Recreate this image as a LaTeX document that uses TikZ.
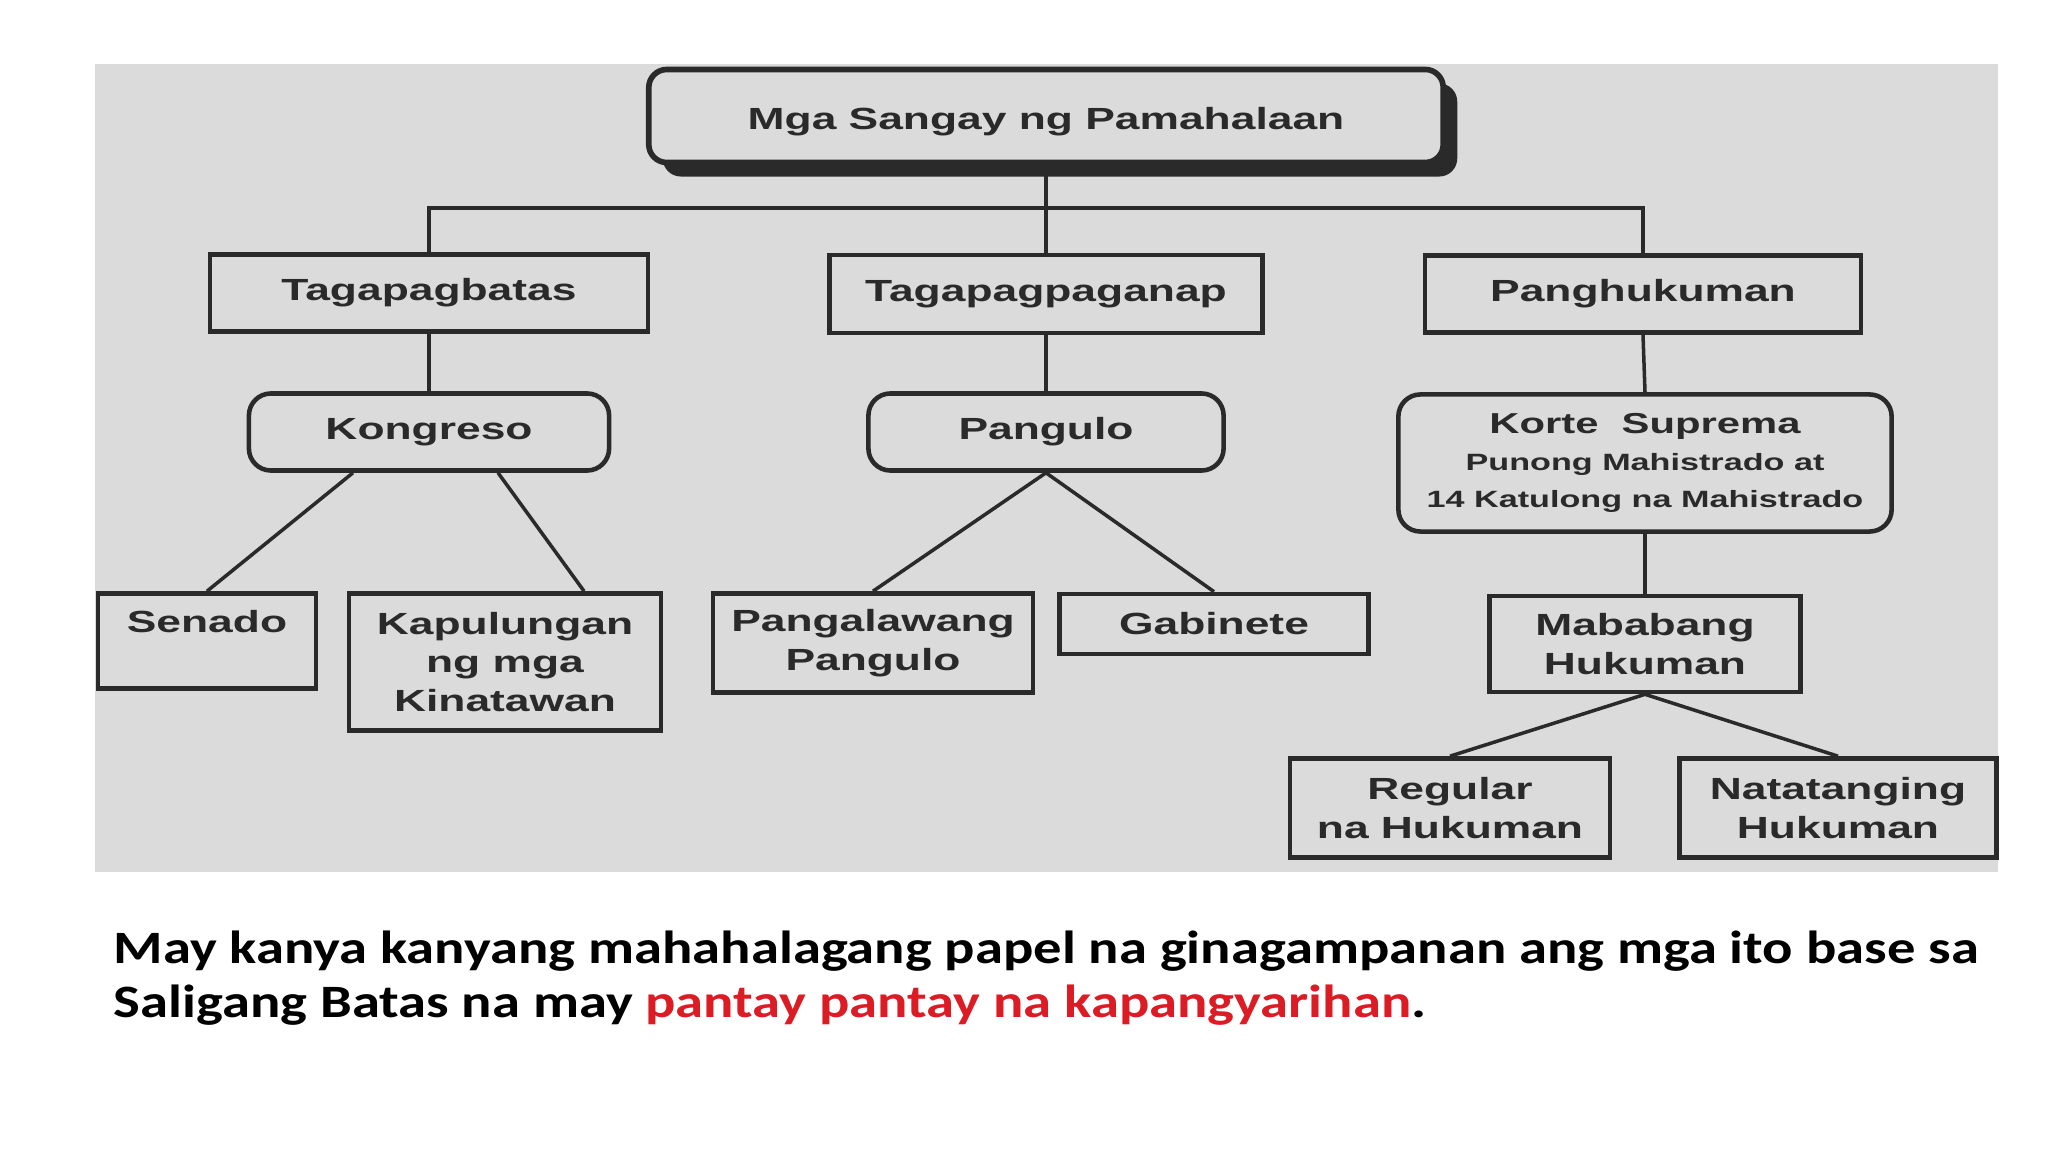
\documentclass[tikz,border=0pt]{standalone}
\usepackage{fontspec}
\usepackage{color, tikz}
\usetikzlibrary{shadows}
\newfontfamily\chartfont[FakeStretch=1.45]{Liberation Sans}
\newfontfamily\slidefont[FakeStretch=1.22]{Carlito}
\newcommand\smallline{\fontsize{6.7}{10.4}\selectfont}
\definecolor{paper}{RGB}{219,219,219}
\definecolor{ink}{RGB}{42,42,42}
\definecolor{slidered}{RGB}{220,28,36}

\begin{document}
\begin{tikzpicture}[x=0.01cm,y=-0.01cm,color=ink,line width=1pt,
	sqbox/.style={rectangle,draw,line width=1.3pt,inner sep=0pt,align=center,font=\chartfont\bfseries\fontsize{8.7}{11}\selectfont},
	rndbox/.style={sqbox,rounded corners=0.22cm}]
				\useasboundingbox (0,0) rectangle (2048,1152);
				\fill[paper] (95,64) rectangle (1998,872);
				\node[rndbox,fill=paper,line width=1.6pt,rounded corners=0.18cm,minimum width=7.94cm,minimum height=0.93cm,text height=9.2pt,text depth=1.8pt,
					drop shadow={shadow xshift=0.14cm,shadow yshift=-0.14cm,fill=ink,opacity=1}] (sangay) at (1046,116) {Mga Sangay ng Pamahalaan};
				\node[sqbox,minimum width=4.38cm,minimum height=0.77cm] (batas) at (429,293) {Tagapagbatas};
				\node[sqbox,minimum width=4.33cm,minimum height=0.78cm] (paganap) at (1046,294) {Tagapagpaganap};
				\node[sqbox,minimum width=4.36cm,minimum height=0.77cm] (hukuman) at (1643,294) {Panghukuman};
				\node[rndbox,minimum width=3.6cm,minimum height=0.77cm] (kongreso) at (429,432) {Kongreso};
				\node[rndbox,minimum width=3.55cm,minimum height=0.77cm] (pangulo) at (1046,432) {Pangulo};
				\node[rndbox,minimum width=4.93cm,minimum height=1.37cm,font=\chartfont\bfseries\fontsize{8.2}{10.4}\selectfont] (korte) at (1645,463)
					{Korte\ \ Suprema\\\smallline Punong Mahistrado at\\\smallline 14 Katulong na Mahistrado};
				\node[sqbox,minimum width=2.18cm,minimum height=0.95cm] (senado) at (207,641) {Senado\\\phantom{S}};
				\node[sqbox,minimum width=3.12cm,minimum height=1.37cm] (kapulungan) at (505,662) {Kapulungan\\ng mga\\Kinatawan};
				\node[sqbox,minimum width=3.2cm,minimum height=0.99cm] (pangalawa) at (873,643) {Pangalawang\\Pangulo};
				\node[sqbox,minimum width=3.09cm,minimum height=0.6cm] (gabinete) at (1214,624) {Gabinete};
				\node[sqbox,minimum width=3.11cm,minimum height=0.96cm] (mababa) at (1645,644) {Mababang\\Hukuman};
				\node[sqbox,minimum width=3.2cm,minimum height=0.99cm] (regular) at (1450,808) {Regular\\na Hukuman};
				\node[sqbox,minimum width=3.17cm,minimum height=0.99cm] (natatangi) at (1838,808) {Natatanging\\Hukuman};
				\coordinate (bus) at (1046,208);
				\draw (batas.north) |- (bus) -| (hukuman.north);
				\path
				(sangay.south) edge (paganap.north)
				(batas.south) edge (kongreso.north)
				(paganap.south) edge (pangulo.north)
				(hukuman.south) edge (korte.north)
				([xshift=-0.76cm]kongreso.south) edge (senado.north)
				([xshift=0.69cm]kongreso.south) edge ([xshift=0.79cm]kapulungan.north)
				(pangulo.south) edge (pangalawa.north)
				(pangulo.south) edge (gabinete.north)
				(korte.south) edge (mababa.north)
				(mababa.south) edge (regular.north)
				(mababa.south) edge (natatangi.north);
				\node[anchor=base west,align=left,inner sep=0pt,text=black,font=\slidefont\bfseries\fontsize{13.2}{15.3}\selectfont] (caption) at (112,1017)
					{May kanya kanyang mahahalagang papel na ginagampanan ang mga ito base sa\\Saligang Batas na may \textcolor{slidered}{pantay pantay na kapangyarihan}.};
			\end{tikzpicture}
\end{document}
